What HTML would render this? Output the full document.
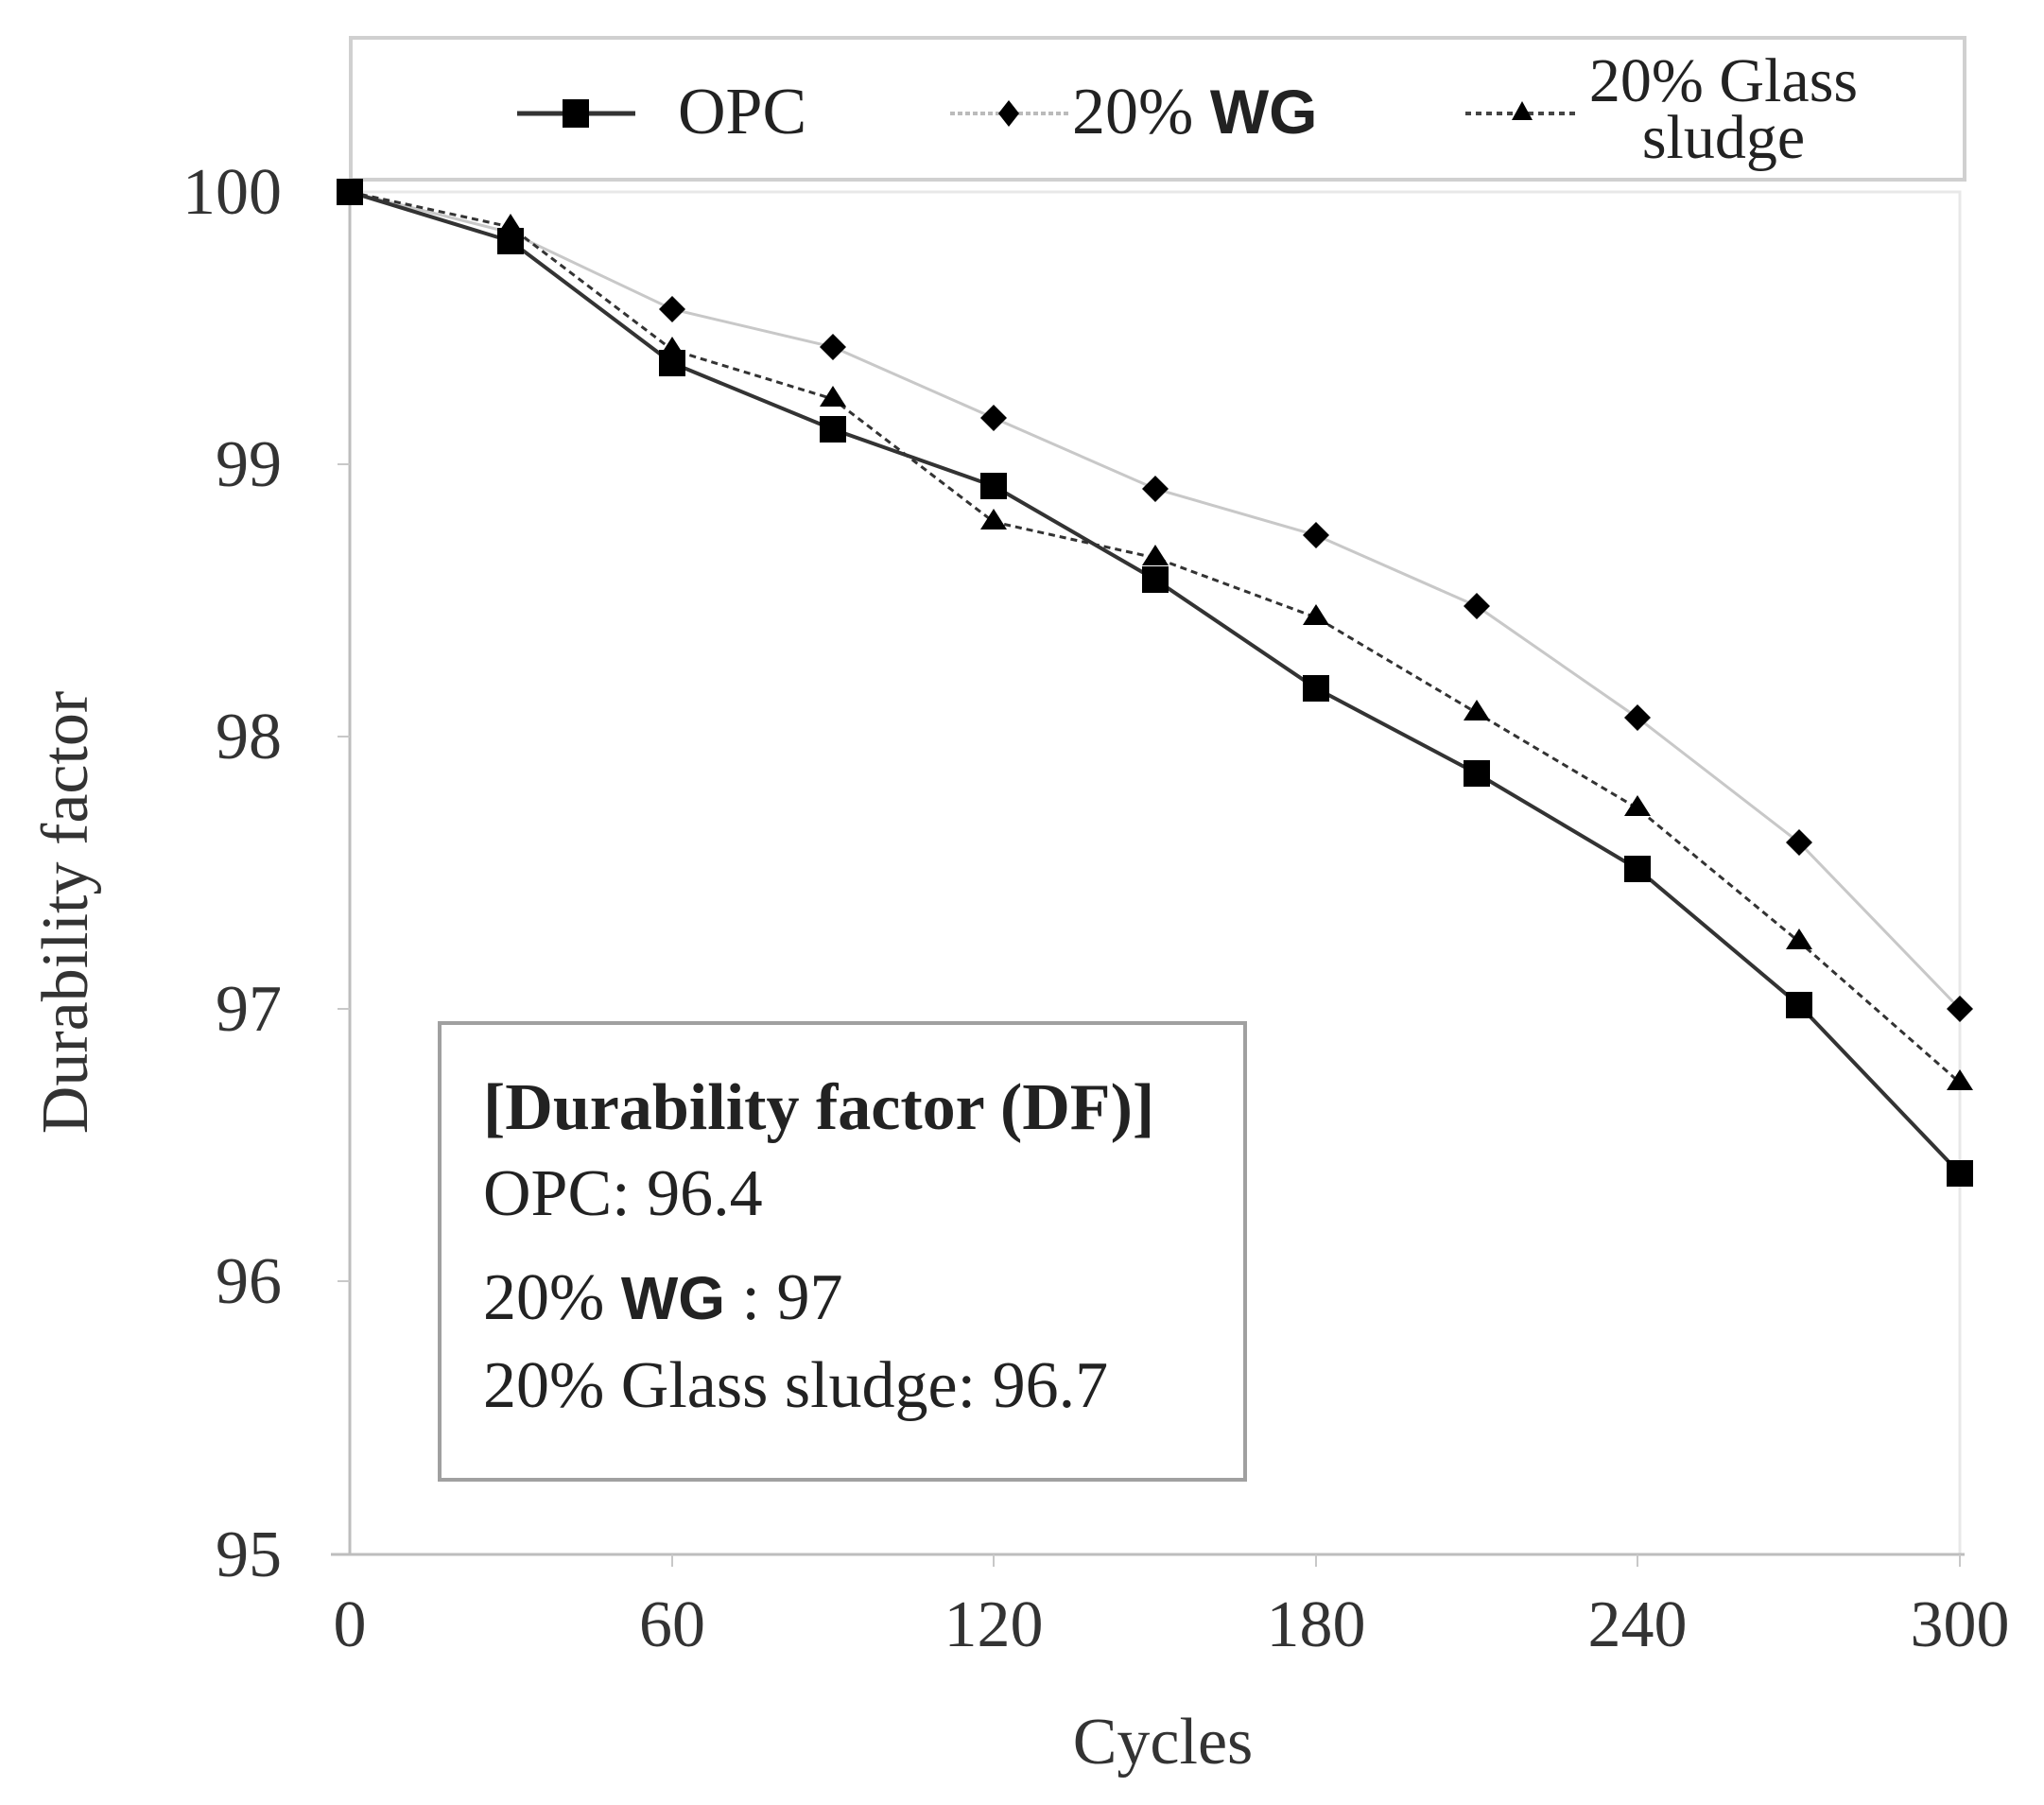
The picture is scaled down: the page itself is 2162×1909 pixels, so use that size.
<!DOCTYPE html>
<html><head><meta charset="utf-8"><style>html,body{margin:0;padding:0;background:#fff}svg{display:block}</style></head>
<body>
<svg width="2162" height="1909" viewBox="0 0 2162 1909" xmlns="http://www.w3.org/2000/svg" font-family="'Liberation Serif', serif">
<rect width="2162" height="1909" fill="#fff"/>
<rect x="371" y="40" width="1707" height="150" fill="none" stroke="#d0d0d0" stroke-width="4"/>
<rect x="370" y="203" width="1703" height="1441" fill="none" stroke="#e8e8e8" stroke-width="3"/>
<line x1="370" y1="200" x2="370" y2="1645" stroke="#bdbdbd" stroke-width="3"/>
<line x1="350" y1="1644" x2="2078" y2="1644" stroke="#bdbdbd" stroke-width="3"/>
<g stroke="#c8c8c8" stroke-width="2">
<line x1="370" y1="203" x2="357" y2="203"/><line x1="370" y1="491" x2="357" y2="491"/><line x1="370" y1="779" x2="357" y2="779"/><line x1="370" y1="1067" x2="357" y2="1067"/><line x1="370" y1="1355" x2="357" y2="1355"/>
<line x1="711" y1="1644" x2="711" y2="1657"/><line x1="1051" y1="1644" x2="1051" y2="1657"/><line x1="1392" y1="1644" x2="1392" y2="1657"/><line x1="1732" y1="1644" x2="1732" y2="1657"/><line x1="2073" y1="1644" x2="2073" y2="1657"/>
</g>
<g font-size="70" fill="#333" text-anchor="end">
<text x="298" y="226">100</text><text x="298" y="514">99</text><text x="298" y="802">98</text><text x="298" y="1090">97</text><text x="298" y="1378">96</text><text x="298" y="1667">95</text>
</g>
<g font-size="70" fill="#333" text-anchor="middle">
<text x="370" y="1741">0</text><text x="711" y="1741">60</text><text x="1051" y="1741">120</text><text x="1392" y="1741">180</text><text x="1732" y="1741">240</text><text x="2073" y="1741">300</text>
<text x="1230" y="1865">Cycles</text>
</g>
<text transform="translate(92,965) rotate(-90)" font-size="70" fill="#333" text-anchor="middle">Durability factor</text>
<polyline fill="none" stroke="#c8c8c8" stroke-width="3" points="370,203 540,246 711,327 881,367 1051,442 1222,517 1392,566 1562,641 1732,759 1903,891 2073,1067"/>
<polyline fill="none" stroke="#333" stroke-width="3" stroke-dasharray="7,5" points="370,203 540,240 711,370 881,422 1051,552 1222,590 1392,653 1562,754 1732,855 1903,996 2073,1145"/>
<polyline fill="none" stroke="#333" stroke-width="4" points="370,203 540,255 711,384 881,454 1051,514 1222,613 1392,728 1562,818 1732,919 1903,1063 2073,1241"/>
<g fill="#000">
<path d="M540,232l14,14l-14,14l-14,-14z M711,313l14,14l-14,14l-14,-14z M881,353l14,14l-14,14l-14,-14z M1051,428l14,14l-14,14l-14,-14z M1222,503l14,14l-14,14l-14,-14z M1392,552l14,14l-14,14l-14,-14z M1562,627l14,14l-14,14l-14,-14z M1732,745l14,14l-14,14l-14,-14z M1903,877l14,14l-14,14l-14,-14z M2073,1053l14,14l-14,14l-14,-14z"/>
<path d="M540,226l14,22h-28z M711,356l14,22h-28z M881,408l14,22h-28z M1051,538l14,22h-28z M1222,576l14,22h-28z M1392,639l14,22h-28z M1562,740l14,22h-28z M1732,841l14,22h-28z M1903,982l14,22h-28z M2073,1131l14,22h-28z"/>
<rect x="356" y="189" width="28" height="28"/><rect x="526" y="241" width="28" height="28"/><rect x="697" y="370" width="28" height="28"/><rect x="867" y="440" width="28" height="28"/><rect x="1037" y="500" width="28" height="28"/><rect x="1208" y="599" width="28" height="28"/><rect x="1378" y="714" width="28" height="28"/><rect x="1548" y="804" width="28" height="28"/><rect x="1718" y="905" width="28" height="28"/><rect x="1889" y="1049" width="28" height="28"/><rect x="2059" y="1227" width="28" height="28"/>
</g>
<line x1="547" y1="120" x2="672" y2="120" stroke="#333" stroke-width="5"/>
<rect x="595" y="105" width="28" height="30" fill="#000"/>
<text x="717" y="141" font-size="70" fill="#222">OPC</text>
<line x1="1005" y1="120" x2="1130" y2="120" stroke="#bbb" stroke-width="4" stroke-dasharray="5,3"/>
<path d="M1067,106l11,14l-11,14l-11,-14z" fill="#000"/>
<text x="1134" y="141" font-size="70" fill="#222">20% <tspan font-family="'Liberation Sans', sans-serif" font-weight="bold" font-size="66">WG</tspan></text>
<line x1="1550" y1="120" x2="1670" y2="120" stroke="#444" stroke-width="4" stroke-dasharray="6,5"/>
<path d="M1610,107l11,20h-22z" fill="#000"/>
<text x="1823" y="107" font-size="66" fill="#222" text-anchor="middle">20% Glass</text>
<text x="1823" y="167" font-size="66" fill="#222" text-anchor="middle">sludge</text>
<rect x="465" y="1082" width="852" height="483" fill="#fff" stroke="#a0a0a0" stroke-width="4"/>
<g font-size="70" fill="#222">
<text x="511" y="1194" font-weight="bold">[Durability factor (DF)]</text>
<text x="511" y="1285">OPC: 96.4</text>
<text x="511" y="1395">20% <tspan font-family="'Liberation Sans', sans-serif" font-weight="bold" font-size="64">WG</tspan> : 97</text>
<text x="511" y="1488">20% Glass sludge: 96.7</text>
</g>
</svg>
</body></html>
